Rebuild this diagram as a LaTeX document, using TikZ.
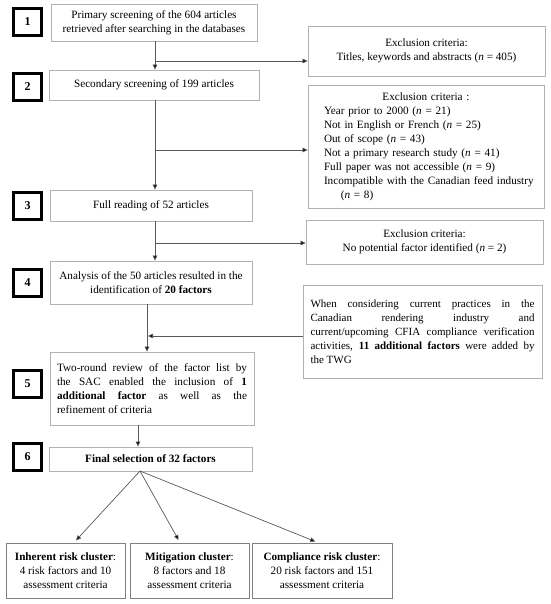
\documentclass[tikz,border=0pt]{standalone}
\usepackage{fontspec}
\setmainfont{Liberation Serif}
\usetikzlibrary{arrows.meta,calc}
\begin{document}
\begin{tikzpicture}[x=1pt,y=-1pt,
  every node/.style={font=\fontsize{11.2}{14}\selectfont},
  mbox/.style={draw=black!30, line width=0.8pt, inner sep=3pt},
  cbox/.style={draw=black!50, line width=0.8pt, inner sep=3pt, align=center},
  numbox/.style={draw=black, line width=3pt, minimum width=28pt, minimum height=27pt, font=\fontsize{12}{14}\selectfont\bfseries},
  arr/.style={draw=black!65, line width=0.7pt, -{Triangle[length=5pt,width=4.5pt,fill=black]}}
]
\useasboundingbox (0,0) rectangle (550,604);
% number boxes
\node[numbox] (n1) at (27.5,22) {1};
\node[numbox] (n2) at (27.5,87) {2};
\node[numbox] (n3) at (27.5,206) {3};
\node[numbox] (n4) at (27.5,283) {4};
\node[numbox] (n5) at (27.5,384) {5};
\node[numbox] (n6) at (27.5,457) {6};
% main boxes
\node[mbox, minimum width=206pt, minimum height=37pt, align=center] (b1) at (154,22.5)
  {Primary screening of the 604 articles\\retrieved after searching in the databases};
\node[mbox, minimum width=210pt, minimum height=30pt, align=center] (b2) at (154,85)
  {Secondary screening of 199 articles};
\node[mbox, minimum width=202pt, minimum height=31pt, align=center] (b3) at (151,205.5)
  {Full reading of 52 articles};
\node[mbox, minimum width=202pt, minimum height=43pt, align=center] (b4) at (151,282.5)
  {Analysis of the 50 articles resulted in the\\identification of \textbf{20 factors}};
\node[mbox, minimum width=204pt, minimum height=73pt, text width=190pt, align=justify] (b5) at (152,388.5)
  {Two-round review of the factor list by\linebreak the SAC enabled the inclusion of \textbf{1}\linebreak \textbf{additional factor} as well as the\linebreak refinement of criteria};
\node[mbox, minimum width=203pt, minimum height=24pt, align=center] (b6) at (150.5,459)
  {\textbf{Final selection of 32 factors}};
% exclusion boxes
\node[mbox, minimum width=237pt, minimum height=50pt, align=center] (e1) at (426.5,51)
  {Exclusion criteria:\\Titles, keywords and abstracts (\textit{n} = 405)};
\node[mbox, minimum width=236pt, minimum height=123pt, text width=204pt, align=left] (e2) at (426,146.5)
  {{\centering Exclusion criteria :\par}
   \mbox{Year prior to 2000 (\textit{n} = 21)}\\
   \mbox{Not in English or French (\textit{n} = 25)}\\
   \mbox{Out of scope (\textit{n} = 43)}\\
   \mbox{Not a primary research study (\textit{n} = 41)}\\
   \mbox{Full paper was not accessible (\textit{n} = 9)}\\
   \mbox{Incompatible with the Canadian feed industry}\\
   \hspace*{1.5em}(\textit{n} = 8)};
\node[mbox, minimum width=237pt, minimum height=44pt, align=center] (e3) at (424.5,242)
  {Exclusion criteria:\\No potential factor identified (\textit{n} = 2)};
\node[mbox, minimum width=239pt, minimum height=93pt, text width=224pt, align=justify, font=\fontsize{11}{14}\selectfont] (twg) at (422.5,331.5)
  {When considering current practices in the\linebreak Canadian rendering industry and\linebreak current/upcoming CFIA compliance verification\linebreak activities, \textbf{11 additional factors} were added by\linebreak the TWG};
% cluster boxes
\node[cbox, minimum width=119pt, minimum height=55pt] (c1) at (65.5,570.5)
  {\textbf{Inherent risk cluster}:\\4 risk factors and 10\\assessment criteria};
\node[cbox, minimum width=119pt, minimum height=55pt] (c2) at (189.5,570.5)
  {\textbf{Mitigation cluster}:\\8 factors and 18\\assessment criteria};
\node[cbox, minimum width=140pt, minimum height=55pt] (c3) at (322,570.5)
  {\textbf{Compliance risk cluster}:\\20 risk factors and 151\\assessment criteria};
% connectors
\coordinate (j1) at (155,61);
\coordinate (j2) at (155,150);
\coordinate (j3) at (155,243);
\coordinate (j4) at (147,336);
\draw[arr] ([xshift=1pt]b1.south) -- ([xshift=1pt]b1.south |- b2.north);
\draw[arr] (j1) -- (j1 -| e1.west);
\draw[arr] ([xshift=1pt]b2.south) -- ([xshift=1pt]b2.south |- b3.north);
\draw[arr] (j2) -- (j2 -| e2.west);
\draw[arr] ([xshift=4pt]b3.south) -- ([xshift=4pt]b3.south |- b4.north);
\draw[arr] (j3) -- (j3 -| e3.west);
\draw[arr] ([xshift=-4pt]b4.south) -- ([xshift=-4pt]b4.south |- b5.north);
\draw[arr] (j4 -| twg.west) -- ([xshift=1pt]j4);
\draw[arr] ([xshift=-14pt]b5.south) -- ([xshift=-14pt]b5.south |- b6.north);
\coordinate (k) at (140,471);
\draw[arr, shorten >=3pt] (k) -- ([xshift=8.5pt]c1.north);
\draw[arr, shorten >=3pt] (k) -- ([xshift=-9.5pt]c2.north);
\draw[arr, shorten >=3pt] (k) -- ([xshift=-4pt]c3.north);
\end{tikzpicture}
\end{document}
